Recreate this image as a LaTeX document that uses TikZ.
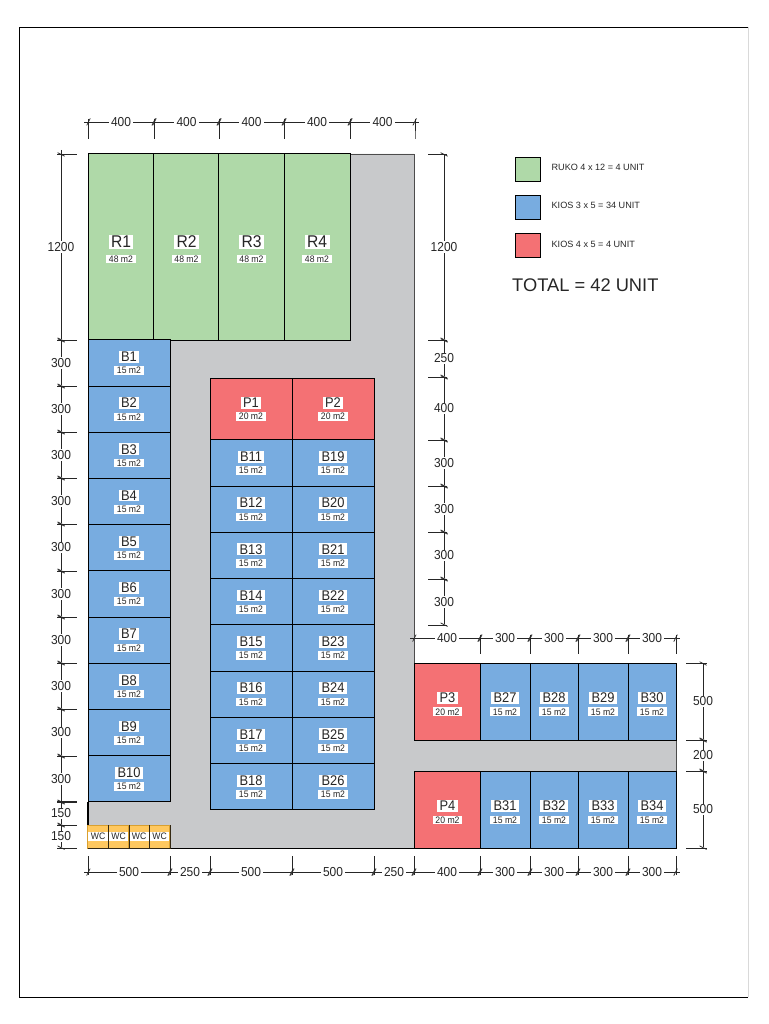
\documentclass[tikz,border=0pt]{standalone}
\usepackage{fontspec}
\usepackage{xcolor}
\setmainfont{Liberation Sans}
\newfontfamily\narrowfont[FakeStretch=0.92]{Liberation Sans}
\usetikzlibrary{arrows.meta,positioning}

\definecolor{rukogreen}{HTML}{AFD9A8}
\definecolor{kiosblue}{HTML}{78ACE0}
\definecolor{kiosred}{HTML}{F47174}
\definecolor{wcorange}{HTML}{FFC85F}
\definecolor{wcborder}{HTML}{D9A030}
\definecolor{roadgray}{HTML}{C8C9CB}
\definecolor{inkgray}{HTML}{262626}

\newcommand{\unitbox}[1]{\setlength{\fboxsep}{1pt}\colorbox{white}{\hspace{1.5pt}#1\hspace{1.5pt}}}
\newcommand{\bigname}[1]{\rule{0pt}{17.2pt}{\fontsize{17}{17}\selectfont\unitbox{#1}}}
\newcommand{\midname}[1]{{\fontsize{14}{14}\selectfont\unitbox{#1}}}
\newcommand{\lowname}[1]{\rule{0pt}{16pt}\midname{#1}}

\begin{document}
\begin{tikzpicture}[x=1pt, y=-1pt,
    unit/.style={rectangle, draw=black, line width=1pt, inner sep=0pt, outer sep=0pt, align=center, text=inkgray,
        font=\narrowfont\fontsize{9.4}{12.2}\selectfont},
    ruko/.style={unit, fill=rukogreen, minimum width=66pt, minimum height=186pt},
    kiosleft/.style={unit, fill=kiosblue, minimum width=82pt, minimum height=46.2pt},
    kiosrow/.style={unit, fill=kiosblue, minimum height=77pt},
    kios/.style={unit, fill=kiosred, minimum width=82pt, minimum height=62pt},
    kiosend/.style={unit, fill=kiosred, minimum width=66pt, minimum height=77pt},
    wcbox/.style={unit, fill=wcorange, draw=wcborder, minimum width=20.5pt, minimum height=23pt},
    swatch/.style={rectangle, draw=black, line width=0.9pt, minimum width=25pt, minimum height=24pt, inner sep=0pt},
    legendtext/.style={inner sep=0pt, text=inkgray, font=\fontsize{9.1}{10}\selectfont},
    dimline/.style={draw=inkgray, line width=0.8pt, {Bar[width=7pt,slant=0.5]}-{Bar[width=7pt,slant=0.5]}},
    extline/.style={draw=inkgray, line width=0.8pt},
    dimlabel/.style={midway, fill=white, inner xsep=2.5pt, inner ysep=1pt, text=inkgray, font=\narrowfont\fontsize{13}{14}\selectfont}]

    \useasboundingbox (0,0) rectangle (768,1024);
    \draw[line width=0.9pt] (748,27) -- (19,27) -- (19,997) -- (748,997);
    \draw[black!15, line width=0.9pt] (748,27) -- (748,997);

    % road
    \draw[fill=roadgray, draw=black!70, line width=0.8pt] (88,154) -- (414,154) -- (414,663) -- (676,663) -- (676,848) -- (88,848) -- cycle;
    \draw[line width=1.4pt] (88,802) -- (88,825);
    \draw[line width=1pt] (170,848) -- (414,848);

    % ruko
    \node[ruko] (R1) at (121,247) {\bigname{R1}\\[2pt] \unitbox{48 m2}};
    \node[ruko] (R2) at (186.5,247) {\bigname{R2}\\[2pt] \unitbox{48 m2}};
    \node[ruko] (R3) at (251.5,247) {\bigname{R3}\\[2pt] \unitbox{48 m2}};
    \node[ruko] (R4) at (317,247) {\bigname{R4}\\[2pt] \unitbox{48 m2}};

    % left column
    \node[kiosleft] (B1) at (129,363) {\midname{B1}\\ \unitbox{15 m2}};
    \node[kiosleft] (B2) at (129,409.2) {\midname{B2}\\ \unitbox{15 m2}};
    \node[kiosleft] (B3) at (129,455.4) {\midname{B3}\\ \unitbox{15 m2}};
    \node[kiosleft] (B4) at (129,501.6) {\midname{B4}\\ \unitbox{15 m2}};
    \node[kiosleft] (B5) at (129,547.8) {\midname{B5}\\ \unitbox{15 m2}};
    \node[kiosleft] (B6) at (129,594) {\midname{B6}\\ \unitbox{15 m2}};
    \node[kiosleft] (B7) at (129,640.2) {\midname{B7}\\ \unitbox{15 m2}};
    \node[kiosleft] (B8) at (129,686.4) {\midname{B8}\\ \unitbox{15 m2}};
    \node[kiosleft] (B9) at (129,732.6) {\midname{B9}\\ \unitbox{15 m2}};
    \node[kiosleft] (B10) at (129,778.8) {\midname{B10}\\ \unitbox{15 m2}};

    % wc
    \node[wcbox] (WC1) at (98.2,836.5) {\unitbox{WC}};
    \node[wcbox] (WC2) at (118.7,836.5) {\unitbox{WC}};
    \node[wcbox] (WC3) at (139.2,836.5) {\unitbox{WC}};
    \node[wcbox] (WC4) at (159.7,836.5) {\unitbox{WC}};
    \draw[black!80!wcorange, line width=0.9pt] (WC1.north east) -- (WC1.south east) (WC2.north east) -- (WC2.south east) (WC3.north east) -- (WC3.south east) (WC1.south west) -- (WC4.south east) -- (WC4.north east);

    % middle block
    \node[kios] (P1) at (251,409) {\midname{P1}\\ \unitbox{20 m2}};
    \node[kios] (P2) at (333,409) {\midname{P2}\\ \unitbox{20 m2}};
    \node[kiosleft] (B11) at (251,463) {\midname{B11}\\ \unitbox{15 m2}};
    \node[kiosleft] (B12) at (251,509.2) {\midname{B12}\\ \unitbox{15 m2}};
    \node[kiosleft] (B13) at (251,555.5) {\midname{B13}\\ \unitbox{15 m2}};
    \node[kiosleft] (B14) at (251,601.7) {\midname{B14}\\ \unitbox{15 m2}};
    \node[kiosleft] (B15) at (251,648) {\midname{B15}\\ \unitbox{15 m2}};
    \node[kiosleft] (B16) at (251,694.2) {\midname{B16}\\ \unitbox{15 m2}};
    \node[kiosleft] (B17) at (251,740.5) {\midname{B17}\\ \unitbox{15 m2}};
    \node[kiosleft] (B18) at (251,786.7) {\midname{B18}\\ \unitbox{15 m2}};
    \node[kiosleft] (B19) at (333,463) {\midname{B19}\\ \unitbox{15 m2}};
    \node[kiosleft] (B20) at (333,509.2) {\midname{B20}\\ \unitbox{15 m2}};
    \node[kiosleft] (B21) at (333,555.5) {\midname{B21}\\ \unitbox{15 m2}};
    \node[kiosleft] (B22) at (333,601.7) {\midname{B22}\\ \unitbox{15 m2}};
    \node[kiosleft] (B23) at (333,648) {\midname{B23}\\ \unitbox{15 m2}};
    \node[kiosleft] (B24) at (333,694.2) {\midname{B24}\\ \unitbox{15 m2}};
    \node[kiosleft] (B25) at (333,740.5) {\midname{B25}\\ \unitbox{15 m2}};
    \node[kiosleft] (B26) at (333,786.7) {\midname{B26}\\ \unitbox{15 m2}};

    % right wing
    \node[kiosend] (P3) at (447.5,701.5) {\lowname{P3}\\ \unitbox{20 m2}};
    \node[kiosrow, minimum width=50pt] (B27) at (505,701.5) {\lowname{B27}\\ \unitbox{15 m2}};
    \node[kiosrow, minimum width=48pt] (B28) at (554,701.5) {\lowname{B28}\\ \unitbox{15 m2}};
    \node[kiosrow, minimum width=50pt] (B29) at (603,701.5) {\lowname{B29}\\ \unitbox{15 m2}};
    \node[kiosrow, minimum width=48pt] (B30) at (652,701.5) {\lowname{B30}\\ \unitbox{15 m2}};
    \node[kiosend] (P4) at (447.5,809.5) {\lowname{P4}\\ \unitbox{20 m2}};
    \node[kiosrow, minimum width=50pt] (B31) at (505,809.5) {\lowname{B31}\\ \unitbox{15 m2}};
    \node[kiosrow, minimum width=48pt] (B32) at (554,809.5) {\lowname{B32}\\ \unitbox{15 m2}};
    \node[kiosrow, minimum width=50pt] (B33) at (603,809.5) {\lowname{B33}\\ \unitbox{15 m2}};
    \node[kiosrow, minimum width=48pt] (B34) at (652,809.5) {\lowname{B34}\\ \unitbox{15 m2}};

    % legend
    \node[swatch, fill=rukogreen] (legendruko) at (527.5,169) {};
    \node[swatch, fill=kiosblue] (legendkios) at (527.5,207) {};
    \node[swatch, fill=kiosred] (legendpojok) at (527.5,245) {};
    \node[legendtext, right=11pt of legendruko, yshift=2pt] (textruko) {RUKO 4 x 12 = 4 UNIT};
    \node[legendtext, right=11pt of legendkios, yshift=2pt] (textkios) {KIOS 3 x 5 = 34 UNIT};
    \node[legendtext, right=11pt of legendpojok, yshift=1pt] (textpojok) {KIOS 4 x 5 = 4 UNIT};
    \node[inner sep=0pt, anchor=west, text=inkgray, font=\fontsize{18.3}{20}\selectfont] (total) at (512,285) {TOTAL = 42 UNIT};

    % extension lines
    \draw[extline] (84,122) -- (88,122) (88,119) -- (88,139) (154,119) -- (154,139) (219,119) -- (219,139) (284,119) -- (284,139) (350,119) -- (350,139) (415,119) -- (415,139) -- (415,122) -- (419,122);
    \draw[extline] (57,154) -- (77,154) (57,340) -- (77,340) (61,150) -- (61,154);
    \draw[extline] (428,154) -- (447,154) (428,340) -- (447,340) (428,377) -- (447,377) (428,440) -- (447,440) (428,486) -- (447,486) (428,532) -- (447,532) (428,579) -- (447,579) (428,625) -- (447,625);
    \draw[extline] (410,638) -- (414,638) (480,635) -- (480,654) (530,635) -- (530,654) (578,635) -- (578,654) (628,635) -- (628,654) (676,635) -- (676,654) (676,638) -- (680,638);
    \draw[extline] (84,872) -- (88,872) (88,856) -- (88,875) (170,856) -- (170,875) (210,856) -- (210,875) (292,856) -- (292,875) (374,856) -- (374,875) (414,856) -- (414,875) (480,856) -- (480,875) (530,856) -- (530,875) (578,856) -- (578,875) (628,856) -- (628,875) (676,856) -- (676,875) (676,872) -- (680,872);
    \draw[extline] (686,663) -- (707,663) (686,740) -- (707,740) (686,771) -- (707,771) (686,848) -- (707,848);

    % top dimensions
    \draw[dimline] (88,122) -- node[dimlabel] {400} (154,122);
    \draw[dimline] (154,122) -- node[dimlabel] {400} (219,122);
    \draw[dimline] (219,122) -- node[dimlabel] {400} (284,122);
    \draw[dimline] (284,122) -- node[dimlabel] {400} (350,122);
    \draw[dimline] (350,122) -- node[dimlabel] {400} (415,122);

    % left dimensions
    \draw[dimline] (61,154) -- node[dimlabel] {1200} (61,340);
    \draw[dimline] (61,340) -- node[dimlabel] {300} (61,386);
    \draw[dimline] (61,386) -- node[dimlabel] {300} (61,432);
    \draw[dimline] (61,432) -- node[dimlabel] {300} (61,478);
    \draw[dimline] (61,478) -- node[dimlabel] {300} (61,524);
    \draw[dimline] (61,524) -- node[dimlabel] {300} (61,571);
    \draw[dimline] (61,571) -- node[dimlabel] {300} (61,617);
    \draw[dimline] (61,617) -- node[dimlabel] {300} (61,663);
    \draw[dimline] (61,663) -- node[dimlabel] {300} (61,709);
    \draw[dimline] (61,709) -- node[dimlabel] {300} (61,756);
    \draw[dimline] (61,756) -- node[dimlabel] {300} (61,802);
    \draw[dimline] (61,802) -- node[dimlabel] {150} (61,825);
    \draw[dimline] (61,825) -- node[dimlabel] {150} (61,848);
    \draw[extline, line width=1.4pt] (57,802) -- (77,802);
    \draw[extline] (57,386) -- (77,386) (57,432) -- (77,432) (57,478) -- (77,478) (57,524) -- (77,524) (57,571) -- (77,571) (57,617) -- (77,617) (57,663) -- (77,663) (57,709) -- (77,709) (57,756) -- (77,756) (57,825) -- (77,825) (57,848) -- (77,848);

    % right dimensions
    \draw[dimline] (444,154) -- node[dimlabel] {1200} (444,340);
    \draw[dimline] (444,340) -- node[dimlabel] {250} (444,377);
    \draw[dimline] (444,377) -- node[dimlabel] {400} (444,440);
    \draw[dimline] (444,440) -- node[dimlabel] {300} (444,486);
    \draw[dimline] (444,486) -- node[dimlabel] {300} (444,532);
    \draw[dimline] (444,532) -- node[dimlabel] {300} (444,579);
    \draw[dimline] (444,579) -- node[dimlabel] {300} (444,625);

    % wing top dimensions
    \draw[dimline] (414,638) -- node[dimlabel] {400} (480,638);
    \draw[dimline] (480,638) -- node[dimlabel] {300} (530,638);
    \draw[dimline] (530,638) -- node[dimlabel] {300} (578,638);
    \draw[dimline] (578,638) -- node[dimlabel] {300} (628,638);
    \draw[dimline] (628,638) -- node[dimlabel] {300} (676,638);

    % bottom dimensions
    \draw[dimline] (88,872) -- node[dimlabel] {500} (170,872);
    \draw[dimline] (170,872) -- node[dimlabel] {250} (210,872);
    \draw[dimline] (210,872) -- node[dimlabel] {500} (292,872);
    \draw[dimline] (292,872) -- node[dimlabel] {500} (374,872);
    \draw[dimline] (374,872) -- node[dimlabel] {250} (414,872);
    \draw[dimline] (414,872) -- node[dimlabel] {400} (480,872);
    \draw[dimline] (480,872) -- node[dimlabel] {300} (530,872);
    \draw[dimline] (530,872) -- node[dimlabel] {300} (578,872);
    \draw[dimline] (578,872) -- node[dimlabel] {300} (628,872);
    \draw[dimline] (628,872) -- node[dimlabel] {300} (676,872);

    % wing right dimensions
    \draw[dimline] (703,663) -- node[dimlabel] {500} (703,740);
    \draw[dimline] (703,740) -- node[dimlabel] {200} (703,771);
    \draw[dimline] (703,771) -- node[dimlabel] {500} (703,848);

\end{tikzpicture}
\end{document}
